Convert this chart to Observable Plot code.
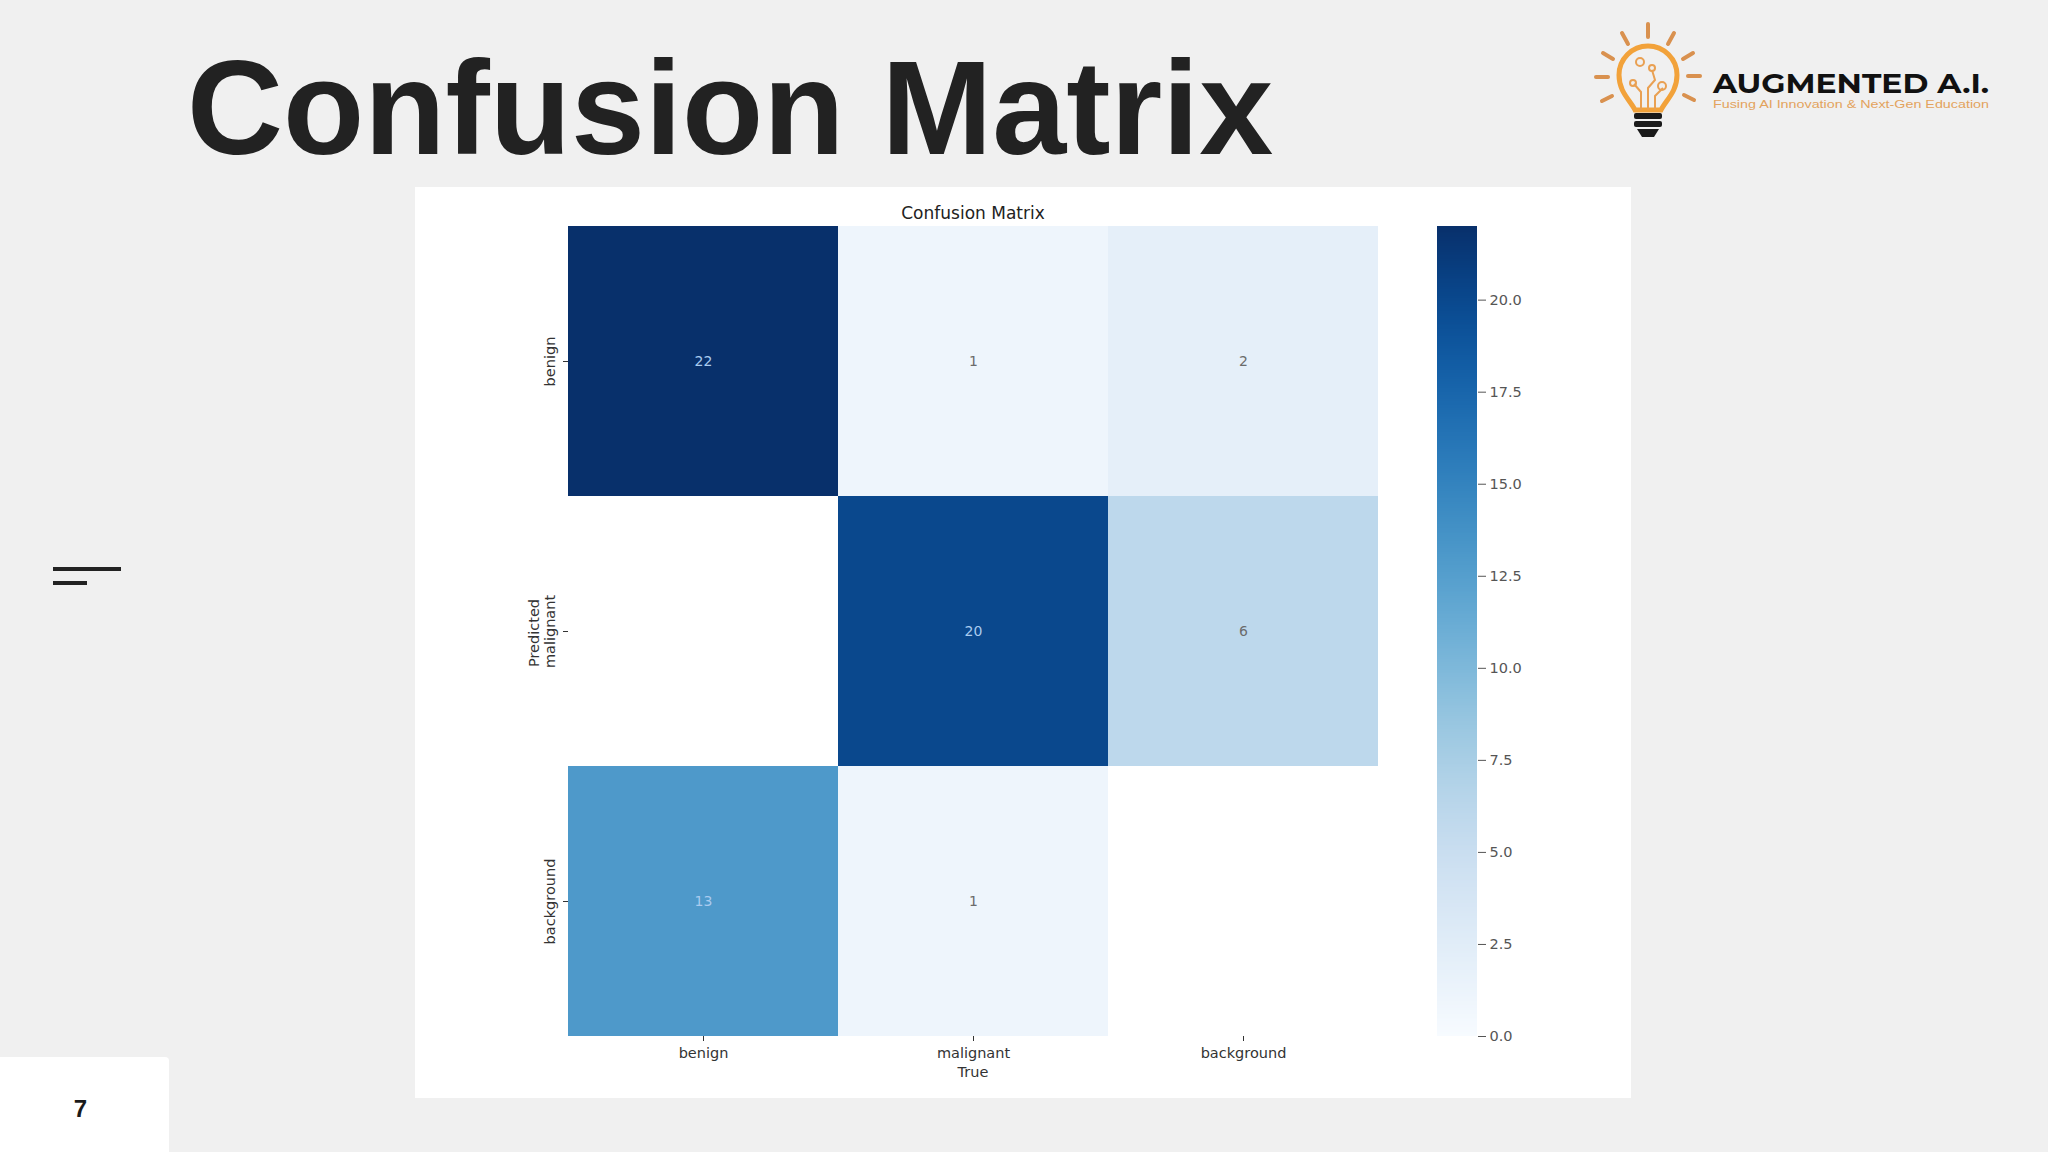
<!DOCTYPE html>
<html>
<head>
<meta charset="utf-8">
<script src="https://cdn.jsdelivr.net/npm/d3@7"></script>
<script src="https://cdn.jsdelivr.net/npm/@observablehq/plot@0.6"></script>
<style>
  html, body { margin: 0; padding: 0; background: #f0f0f0; width: 2048px; height: 1152px; overflow: hidden; }
  #page { position: relative; width: 2048px; height: 1152px; }
  .layer { position: absolute; }
  .layer svg { display: block; }
</style>
</head>
<body>
<div id="page">
  <svg id="deco" width="2048" height="1152" style="position:absolute;left:0;top:0">
    <!-- slide title -->
    <text x="187" y="154" font-family="'Liberation Sans', Arial, sans-serif" font-weight="bold" font-size="133" fill="#222">Confusion Matrix</text>
    <!-- left decoration -->
    <rect x="53" y="567" width="68" height="4" fill="#222"/>
    <rect x="53" y="581" width="34" height="4" fill="#222"/>
    <!-- page number box -->
    <path d="M0,1057 H165 Q169,1057 169,1061 V1152 H0 Z" fill="#ffffff"/>
    <text x="80.5" y="1117" text-anchor="middle" font-family="'Liberation Sans', Arial, sans-serif" font-weight="bold" font-size="24" fill="#1a1a1a">7</text>
    <!-- logo -->
    <g stroke="#d9914f" stroke-width="4" stroke-linecap="round">
      <line x1="1648" y1="24" x2="1648" y2="37"/>
      <line x1="1622" y1="33" x2="1628" y2="44"/>
      <line x1="1674" y1="33" x2="1668" y2="44"/>
      <line x1="1603" y1="53" x2="1613" y2="59"/>
      <line x1="1693" y1="53" x2="1683" y2="59"/>
      <line x1="1596" y1="77" x2="1608" y2="77"/>
      <line x1="1688" y1="76" x2="1700" y2="76"/>
      <line x1="1602" y1="101" x2="1612" y2="96"/>
      <line x1="1694" y1="100" x2="1684" y2="95"/>
    </g>
    <path d="M1635,110 C1630,100 1619,92 1619,75 A29,29 0 1 1 1677,75 C1677,92 1666,100 1661,110 Z" fill="none" stroke="#f2a23a" stroke-width="5"/>
    <g fill="none" stroke="#e9a052" stroke-width="2">
      <path d="M1641,110 L1641,92 L1634,84"/>
      <path d="M1648,110 L1648,88 L1655,80 L1652,70"/>
      <path d="M1655,110 L1655,96 L1663,88"/>
      <circle cx="1640" cy="62" r="4"/>
      <circle cx="1652" cy="68" r="3"/>
      <circle cx="1662" cy="86" r="4"/>
      <circle cx="1633" cy="83" r="3"/>
    </g>
    <rect x="1634" y="113" width="28" height="6" rx="2" fill="#1a1a1a"/>
    <rect x="1634" y="121" width="28" height="6" rx="2" fill="#1a1a1a"/>
    <path d="M1637,129 H1659 L1654,137 H1642 Z" fill="#1a1a1a"/>
    <text x="1713" y="93" font-family="Montserrat, 'Liberation Sans', Arial, sans-serif" font-weight="bold" font-size="28" fill="#111" textLength="276" lengthAdjust="spacingAndGlyphs">AUGMENTED A.I.</text>
    <text x="1713" y="108" font-family="'Liberation Sans', Arial, sans-serif" font-size="10" fill="#e3a35d" textLength="276" lengthAdjust="spacingAndGlyphs">Fusing AI Innovation &amp; Next-Gen Education</text>
    <!-- chart panel -->
    <rect x="415" y="187" width="1216" height="911" fill="#ffffff"/>
    <text x="973" y="219" text-anchor="middle" font-family="'DejaVu Sans', sans-serif" font-size="17" fill="#222">Confusion Matrix</text>
    <text x="973" y="1077" text-anchor="middle" font-family="'DejaVu Sans', sans-serif" font-size="14.5" fill="#333">True</text>
    <text transform="translate(539,633) rotate(-90)" text-anchor="middle" font-family="'DejaVu Sans', sans-serif" font-size="14.5" fill="#333">Predicted</text>
  </svg>
  <div id="heat" class="layer" style="left:415px;top:187px"></div>
  <div id="cbar" class="layer" style="left:1437px;top:187px"></div>
</div>
<script>
// ---- data ----
const classes = ["benign", "malignant", "background"];   // order of both axes
// rows = predicted class, columns = true class
const predictedBenign = [22, 1, 2];
const predictedMalignant = [0, 20, 6];
const predictedBackground = [13, 1, 0];
const colorbarTicks = [0, 2.5, 5, 7.5, 10, 12.5, 15, 17.5, 20];
const colorMax = 22;

const rows = [predictedBenign, predictedMalignant, predictedBackground];
const cells = rows.flatMap((row, i) =>
  row.map((value, j) => ({predicted: classes[i], actual: classes[j], value}))
);
const shown = cells.filter(d => d.value > 0);   // zero cells are left blank, as in the source

const colorScale = {type: "linear", scheme: "blues", domain: [0, colorMax]};
const darkCut = colorMax * 0.45;

const heat = Plot.plot({
  width: 1216,
  height: 911,
  marginLeft: 153,
  marginRight: 253,
  marginTop: 39,
  marginBottom: 62,
  x: {domain: classes, padding: 0, label: null, tickSize: 5, tickPadding: 6},
  y: {domain: classes, padding: 0, label: null, tickSize: 5, tickPadding: 9, tickRotate: -90},
  color: colorScale,
  style: {background: "transparent", fontFamily: "'DejaVu Sans', sans-serif", fontSize: "14.5px", color: "#333"},
  marks: [
    Plot.cell(shown, {x: "actual", y: "predicted", fill: "value", inset: 0, shapeRendering: "crispEdges"}),
    Plot.text(shown.filter(d => d.value >= darkCut),
      {x: "actual", y: "predicted", text: d => String(d.value), fill: "#a9cbef", fontSize: 14}),
    Plot.text(shown.filter(d => d.value < darkCut),
      {x: "actual", y: "predicted", text: d => String(d.value), fill: "#6b6b6b", fontSize: 14})
  ]
});
document.getElementById("heat").appendChild(heat);

// colour bar: thin stripes sampled from the same colour scale
const step = 0.05;
const stops = d3.range(0, colorMax, step);
const cbar = Plot.plot({
  width: 120,
  height: 911,
  marginLeft: 0,
  marginRight: 80,
  marginTop: 39,
  marginBottom: 62,
  x: {domain: [0, 1], axis: null},
  y: {domain: [0, colorMax], axis: "right", ticks: colorbarTicks, tickFormat: d3.format(".1f"), tickSize: 8, tickPadding: 4, label: null},
  color: colorScale,
  style: {background: "transparent", fontFamily: "'DejaVu Sans', sans-serif", fontSize: "14.5px", color: "#555"},
  marks: [
    Plot.rect(stops, {x1: 0, x2: 1, y1: d => d, y2: d => Math.min(colorMax, d + step * 1.5), fill: d => d + step / 2, shapeRendering: "crispEdges"})
  ]
});
document.getElementById("cbar").appendChild(cbar);
</script>
</body>
</html>
